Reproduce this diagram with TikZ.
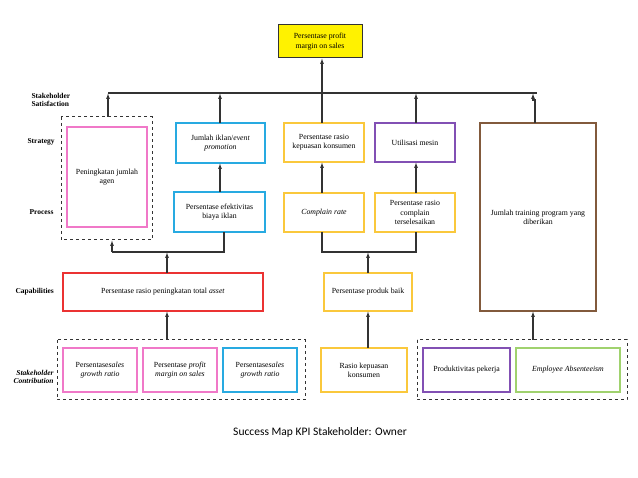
\documentclass[tikz,border=0pt]{standalone}
\usepackage{fontspec}
\setmainfont{Liberation Serif}
\newfontfamily\capfont{Carlito}
\usetikzlibrary{arrows.meta}
\definecolor{cpink}{RGB}{240,120,200}
\definecolor{ccyan}{RGB}{40,170,225}
\definecolor{cyel}{RGB}{250,200,60}
\definecolor{cpur}{RGB}{130,80,180}
\definecolor{cbrown}{RGB}{130,90,60}
\definecolor{cgreen}{RGB}{160,210,110}
\definecolor{cred}{RGB}{235,50,50}
\begin{document}
\begin{tikzpicture}[x=1pt,y=-1pt,
 bx/.style={line width=1.1pt,align=center,font=\fontsize{7.8}{9.2}\selectfont,inner sep=1pt},
 dbox/.style={draw=black!80,dashed,line width=1pt},
 ln/.style={draw=black!80,line width=1.1pt},
 ar/.style={ln,-{Latex[length=6pt,width=4pt]}},
 lab/.style={font=\fontsize{7.5}{8.5}\selectfont\bfseries,align=left,anchor=west}]
\useasboundingbox (0,0) rectangle (638,478);
\node[draw=black!80,fill=yellow,line width=1pt,minimum width=84,minimum height=33,align=center,font=\fontsize{7.8}{9.2}\selectfont] (top) at (320,41.5) {Persentase profit\\margin on sales};
% labels
\node[lab] (l1) at (28,100) {Stakeholder\\Satisfaction};
\node[lab] (l2) at (24,142) {Strategy};
\node[lab] (l3) at (26,212) {Process};
\node[lab] (l4) at (12,292) {Capabilities};
\node[lab,font=\fontsize{7.5}{8.5}\selectfont\bfseries\itshape,align=right] (l5) at (10,377) {Stakeholder\\Contribution};
\draw[dbox] (61,117) rectangle (152,240);
\node[bx,draw=cpink,minimum width=80,minimum height=100] (agen) at (107,177) {Peningkatan jumlah\\agen};
\node[bx,draw=ccyan,minimum width=89,minimum height=40] (iklan) at (220.5,143) {Jumlah iklan/\textit{event}\\\textit{promotion}};
\node[bx,draw=ccyan,minimum width=91,minimum height=40] (efek) at (219.5,212) {Persentase efektivitas\\biaya iklan};
\node[bx,draw=cyel,minimum width=80,minimum height=39] (kep) at (324,142.5) {Persentase rasio\\kepuasan konsumen};
\node[bx,draw=cpur,minimum width=80,minimum height=39] (util) at (415,142.5) {Utilisasi mesin};
\node[bx,draw=cyel,minimum width=80,minimum height=39] (comp) at (324,212.5) {\textit{Complain rate}};
\node[bx,draw=cyel,minimum width=80,minimum height=39] (ters) at (415,212.5) {Persentase rasio\\complain\\terselesaikan};
\node[bx,draw=cbrown,minimum width=116,minimum height=188] (train) at (538,217) {Jumlah training program yang\\diberikan};
\node[bx,draw=cred,minimum width=200,minimum height=38] (asset) at (163,292) {Persentase rasio peningkatan total \textit{asset}};
\node[bx,draw=cyel,minimum width=88,minimum height=38] (prod) at (368,292) {Persentase produk baik};
\draw[dbox] (57,340) rectangle (305,400);
\draw[dbox] (417,340) rectangle (627,400);
\node[bx,draw=cpink,minimum width=74,minimum height=44] (b1) at (100,370) {Persentase\textit{sales}\\\textit{growth ratio}};
\node[bx,draw=cpink,minimum width=74,minimum height=44] (b2) at (180,370) {Persentase \textit{profit}\\\textit{margin on sales}};
\node[bx,draw=ccyan,minimum width=74,minimum height=44] (b3) at (260,370) {Persentase\textit{sales}\\\textit{growth ratio}};
\node[bx,draw=cyel,minimum width=86,minimum height=44] (rk) at (364,370) {Rasio kepuasan\\konsumen};
\node[bx,draw=cpur,minimum width=87,minimum height=44] (pp) at (466.5,370) {Produktivitas pekerja};
\node[bx,draw=cgreen,minimum width=104,minimum height=44] (ea) at (568,370) {\textit{Employee Absenteeism}};
% bus
\coordinate (bl) at (108,93); \coordinate (br) at (537,93);
\draw[ln] (bl) -- (br);
\draw[ar] (108,117) -- (bl);
\draw[ar] (220,123) -- (220,93);
\draw[ar] (322,123) -- (322,58);
\draw[ar] (416,123) -- (416,93);
\draw[ar] (535,123) -- (535,100) -- (533,100) -- (533,93);
\draw[ar] (220,192) -- (220,163);
\draw[ar] (322,193) -- (322,162);
\draw[ar] (416,193) -- (416,162);
\draw[ln] (112,252) -- (224,252) -- (224,232);
\draw[ar] (112,252) -- (112,240);
\draw[ar] (167,273) -- (167,252);
\draw[ln] (322,232) -- (322,252) -- (416,252) -- (416,232);
\draw[ar] (368,273) -- (368,252);
\draw[ar] (167,340) -- (167,311);
\draw[ar] (368,348) -- (368,311);
\draw[ar] (533,340) -- (533,311);
\node[font=\capfont\fontsize{11.5}{13}\selectfont] (cap) at (320,432) {Success Map KPI Stakeholder: Owner};
\end{tikzpicture}
\end{document}
